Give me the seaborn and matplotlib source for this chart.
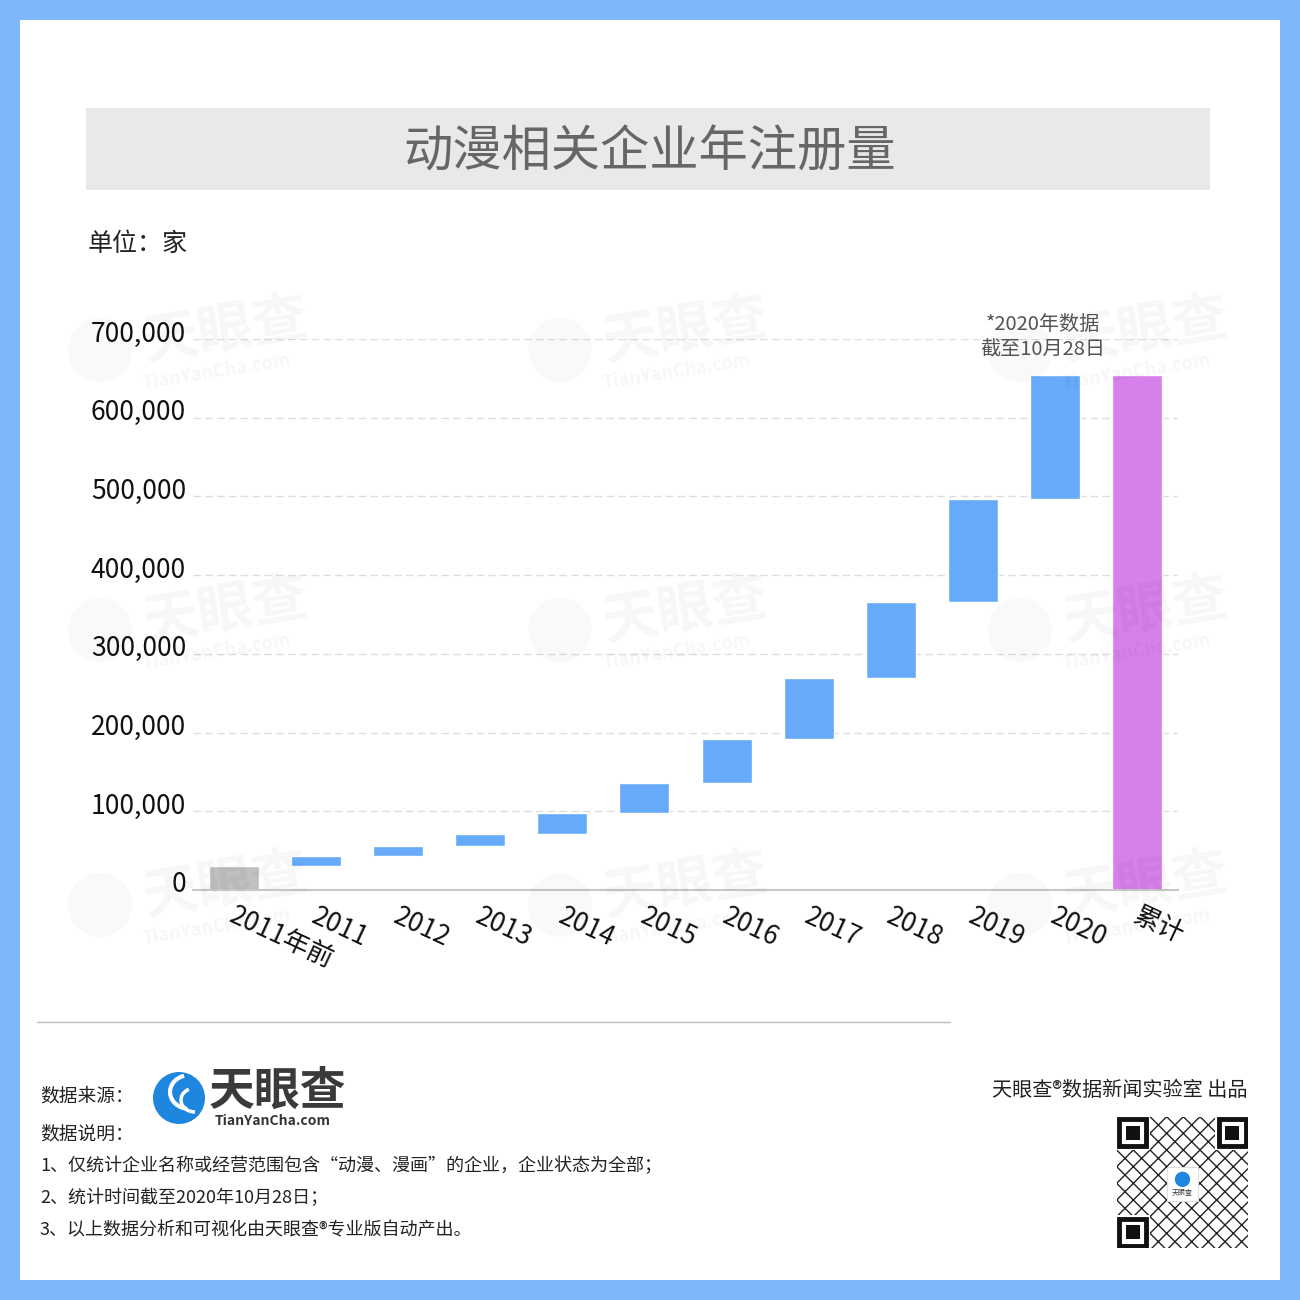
import numpy as np
import pandas as pd
import seaborn as sns
import matplotlib.pyplot as plt
from matplotlib.patches import Rectangle, Circle, Arc
from matplotlib.lines import Line2D
from matplotlib.transforms import ScaledTranslation

# 动漫相关企业年注册量 (家)
categories = ["2011年前", "2011", "2012", "2013", "2014", "2015",
              "2016", "2017", "2018", "2019", "2020", "累计"]
new_firms = [31000, 11700, 13200, 15300, 26800, 38500,
             55600, 76600, 97100, 131000, 158000]
y_ticks = [0, 100000, 200000, 300000, 400000, 500000, 600000, 700000]
y_tick_labels = ["0", "100,000", "200,000", "300,000", "400,000",
                 "500,000", "600,000", "700,000"]
notes = ["1、仅统计企业名称或经营范围包含“动漫、漫画”的企业，企业状态为全部；",
         "2、统计时间截至2020年10月28日；",
         "3、以上数据分析和可视化由天眼查®专业版自动产出。"]

# waterfall: floating bars + total
tops = np.cumsum(new_firms)
bottoms = list(tops - np.array(new_firms)) + [0]
heights = list(new_firms) + [tops[-1]]
df = pd.DataFrame({"类别": categories, "数量": heights, "底部": bottoms})

sns.set_theme(style="white")
plt.rcParams['font.family'] = ['Noto Sans CJK SC', 'DejaVu Sans']

W = 1300.0


def fx(x):
    return x / W


def fy(y):
    return 1 - y / W


fig = plt.figure(figsize=(13, 13), dpi=100)
fig.patch.set_facecolor("#80b6fa")
fig.add_artist(Rectangle((fx(20), fy(1280)), fx(1260), fx(1260), transform=fig.transFigure,
                         facecolor="white", edgecolor="none", zorder=-10))

# title band
fig.add_artist(Rectangle((fx(86), fy(190)), fx(1124), fx(82), transform=fig.transFigure,
                         facecolor="#e9e9e9", edgecolor="none", zorder=-5))
fig.text(fx(650), fy(152), "动漫相关企业年注册量", ha="center", va="center",
         fontsize=35.5, color="#666666")
fig.text(fx(88), fy(244), "单位：家", ha="left", va="center", fontsize=18, color="#222222")

# main chart
ax = fig.add_axes([fx(193), fy(890), fx(1178 - 193), fx(890 - 339)])
ax.set_facecolor("none")
sns.barplot(data=df, x="类别", y="数量", order=categories, bottom=df["底部"].values,
            width=0.61, color="#67aaf9", saturation=1, errorbar=None, ax=ax)
ax.patches[0].set_facecolor("#c0c0c0")
ax.patches[-1].set_facecolor("#d680ec")

ax.set_xlim(-0.5, len(categories) - 0.5)
ax.set_ylim(0, 700000)
ax.set_yticks(y_ticks)
ax.set_yticklabels(y_tick_labels, fontsize=19, color="#111111")
ax.set_xticks(range(len(categories)))
ax.set_xticklabels(categories, fontsize=19, color="#111111", rotation=-25,
                   ha="left", va="top", rotation_mode="anchor")
ax.set_xlabel("")
ax.set_ylabel("")
ax.tick_params(axis="both", length=0)
ax.tick_params(axis="y", pad=5)
ax.tick_params(axis="x", pad=9)
for lab in ax.get_yticklabels():
    lab.set_transform(lab.get_transform() + ScaledTranslation(0, 0.08, fig.dpi_scale_trans))
for lab in ax.get_xticklabels():
    lab.set_transform(lab.get_transform() + ScaledTranslation(0.03, 0, fig.dpi_scale_trans))

ax.set_axisbelow(True)
ax.yaxis.grid(True, color="#dedede", linewidth=1, linestyle=(0, (5.5, 3)))
ax.xaxis.grid(False)
for side in ["top", "right", "left"]:
    ax.spines[side].set_visible(False)
ax.spines["bottom"].set_color("#c8c8c8")
ax.spines["bottom"].set_linewidth(1.5)

ax.text(9.85, 702000, "*2020年数据\n截至10月28日", ha="center", va="center",
        fontsize=14.5, color="#555555", linespacing=1.25, clip_on=False)

# watermarks
for cx in [225, 685, 1145]:
    for cy in [330, 610, 885]:
        fig.text(fx(cx), fy(cy), "天眼查", ha="center", va="center", fontsize=40,
                 fontweight="bold", color="black", alpha=0.035, rotation=9, zorder=20)
        fig.text(fx(cx - 8), fy(cy + 42), "TianYanCha.com", ha="center", va="center",
                 fontsize=13, fontweight="bold", color="black", alpha=0.035, rotation=9, zorder=20)
        fig.add_artist(Circle((fx(cx - 125), fy(cy + 20)), fx(32), transform=fig.transFigure,
                              facecolor="black", alpha=0.025, edgecolor="none", zorder=20))

# footer
fig.add_artist(Line2D([fx(37), fx(950)], [fy(1022), fy(1022)], transform=fig.transFigure,
                      color="#bbbbbb", linewidth=1))
fig.text(fx(40), fy(1096), "数据来源：", ha="left", va="center", fontsize=13.5, color="#222222")
fig.text(fx(40), fy(1134), "数据说明：", ha="left", va="center", fontsize=13.5, color="#222222")
for i, line in enumerate(notes):
    fig.text(fx(40), fy(1166 + 32 * i), line, ha="left", va="center", fontsize=13, color="#222222")

# logo
fig.add_artist(Circle((fx(179), fy(1098)), fx(26), transform=fig.transFigure,
                      facecolor="#1f86e0", edgecolor="none"))
fig.add_artist(Arc((fx(190), fy(1092)), fx(40), fx(34), theta1=110, theta2=260,
                   transform=fig.transFigure, color="white", linewidth=3))
fig.add_artist(Arc((fx(195), fy(1100)), fx(28), fx(24), theta1=120, theta2=270,
                   transform=fig.transFigure, color="white", linewidth=2.5))
fig.text(fx(209), fy(1092), "天眼查", ha="left", va="center", fontsize=33,
         fontweight="bold", color="#3a3a3a")
fig.text(fx(215), fy(1121), "TianYanCha.com", ha="left", va="center", fontsize=10,
         fontweight="bold", color="#333333")

fig.text(fx(1247), fy(1091), "天眼查®数据新闻实验室 出品", ha="right", va="center",
         fontsize=14.5, color="#222222")

# QR code placeholder
qax = fig.add_axes([fx(1117), fy(1248), fx(131), fx(131)])
qax.set_xlim(0, 29)
qax.set_ylim(0, 29)
qax.axis("off")
qax.add_patch(Rectangle((0, 0), 29, 29, facecolor="white", edgecolor="#222222",
                        hatch="xx", linewidth=0))
for (x0, y0) in [(0, 22), (22, 22), (0, 0)]:
    qax.add_patch(Rectangle((x0 - 0.3, y0 - 0.3), 7.6, 7.6, facecolor="white", edgecolor="none"))
    qax.add_patch(Rectangle((x0 + 0.5, y0 + 0.5), 6, 6, facecolor="white", edgecolor="#111111",
                            linewidth=3.5))
    qax.add_patch(Rectangle((x0 + 2, y0 + 2), 3, 3, facecolor="#111111", edgecolor="none"))
qax.add_patch(Rectangle((11, 10.5), 7, 7.5, facecolor="white", edgecolor="#dddddd", linewidth=0.8))
qax.add_patch(Circle((14.5, 15.2), 1.7, facecolor="#1f86e0", edgecolor="none"))
qax.text(14.5, 12.3, "天眼查", ha="center", va="center", fontsize=5, color="#333333")

fig.savefig("out.png", dpi=100)
